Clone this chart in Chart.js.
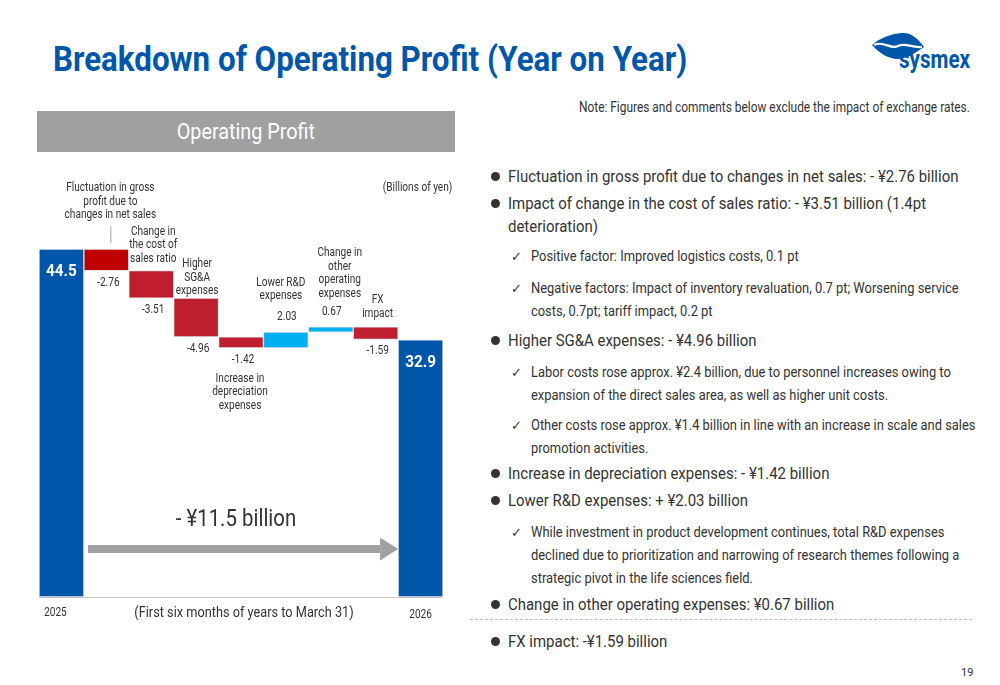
<!DOCTYPE html>
<html>
<head>
<meta charset="utf-8">
<script src="https://cdn.jsdelivr.net/npm/chart.js@4.4.1/dist/chart.umd.min.js"></script>
<style>
  html, body { margin: 0; padding: 0; background: #fff; }
  body { width: 1000px; height: 685px; position: relative; overflow: hidden;
         font-family: "Roboto", "Liberation Sans", sans-serif; color: #333; }
  .n { display: inline-block; transform-origin: 0 0; white-space: nowrap; }
  .title { position: absolute; left: 53px; top: 39px; font-size: 35px; font-weight: bold; color: #0057AA; }
  .title .n { transform: scaleX(0.895); }
  .logo { position: absolute; left: 866px; top: 28px; }
  .panelHead { position: absolute; left: 37px; top: 111px; width: 418px; height: 41px;
               background: #A0A0A0; color: #fff; font-size: 22px; text-align: center; line-height: 41px; }
  .panelHead .n { transform: scaleX(0.9); transform-origin: 50% 0; }
  .note { position: absolute; right: 30px; top: 99px; font-size: 14px; }
  .note .n { transform: scaleX(0.85); transform-origin: 100% 0; }
  .b { position: absolute; left: 508px; font-size: 17px; line-height: 23px; }
  .b .n { transform: scaleX(0.88); }
  .b::before { content: ""; position: absolute; left: -17px; top: 7px; width: 9px; height: 9px;
               border-radius: 50%; background: #333; }
  .s { position: absolute; left: 531px; font-size: 15px; line-height: 23px; }
  .s .n { transform: scaleX(0.86); }
  .s::before { content: "\2713"; position: absolute; left: -20px; top: 0; font-size: 13px; }
  .dash { position: absolute; left: 470px; top: 619px; width: 502px; border-top: 1px dashed #BDBDBD; }
  .page { position: absolute; left: 961px; top: 666px; font-size: 11px; }
  #wf { position: absolute; left: 0; top: 150px; }
</style>
</head>
<body>
<div class="title"><span class="n">Breakdown of Operating Profit (Year on Year)</span></div>
<svg class="logo" width="110" height="50" viewBox="0 0 110 50">
  <path d="M6 17 C14 10, 24 6, 36 5 C44 4, 52 10, 58 19 C48 26, 40 31, 32 31 C22 31, 12 24, 6 17 Z" fill="#0057AA"/>
  <path d="M8 17 C18 12, 24 22, 32 18 C40 14, 44 20, 56 19" fill="none" stroke="#fff" stroke-width="2.2"/>
  <text x="33" y="40" font-family="Roboto, sans-serif" font-weight="bold" font-size="25"
        fill="#0057AA" textLength="71" lengthAdjust="spacingAndGlyphs">sysmex</text>
</svg>
<div class="panelHead"><span class="n">Operating Profit</span></div>
<div class="note"><span class="n">Note: Figures and comments below exclude the impact of exchange rates.</span></div>

<div class="b" style="top:165px"><span class="n">Fluctuation in gross profit due to changes in net sales: - ¥2.76 billion</span></div>
<div class="b" style="top:192px"><span class="n">Impact of change in the cost of sales ratio: - ¥3.51 billion (1.4pt<br>deterioration)</span></div>
<div class="s" style="top:245px"><span class="n">Positive factor: Improved logistics costs, 0.1 pt</span></div>
<div class="s" style="top:277px"><span class="n">Negative factors: Impact of inventory revaluation, 0.7 pt; Worsening service<br>costs, 0.7pt; tariff impact, 0.2 pt</span></div>
<div class="b" style="top:329px"><span class="n">Higher SG&amp;A expenses: - ¥4.96 billion</span></div>
<div class="s" style="top:361px"><span class="n">Labor costs rose approx. ¥2.4 billion, due to personnel increases owing to<br>expansion of the direct sales area, as well as higher unit costs.</span></div>
<div class="s" style="top:414px"><span class="n">Other costs rose approx. ¥1.4 billion in line with an increase in scale and sales<br>promotion activities.</span></div>
<div class="b" style="top:462px"><span class="n">Increase in depreciation expenses: - ¥1.42 billion</span></div>
<div class="b" style="top:489px"><span class="n">Lower R&amp;D expenses: + ¥2.03 billion</span></div>
<div class="s" style="top:521px"><span class="n">While investment in product development continues, total R&amp;D expenses<br>declined due to prioritization and narrowing of research themes following a<br>strategic pivot in the life sciences field.</span></div>
<div class="b" style="top:593px"><span class="n">Change in other operating expenses: ¥0.67 billion</span></div>
<div class="dash"></div>
<div class="b" style="top:630px"><span class="n">FX impact: -¥1.59 billion</span></div>
<div class="page">19</div>

<canvas id="wf" width="470" height="490"></canvas>

<script>
// ----------------------------
// Daten (Milliarden Yen)
// ----------------------------
const years = ['2025', '2026'];
const startValue = 44.5;
const endValue = 32.9;
const changes = [-2.76, -3.51, -4.96, -1.42, 2.03, 0.67, -1.59];
const changeNames = [
  ['Fluctuation in gross', 'profit due to', 'changes in net sales'],
  ['Change in', 'the cost of', 'sales ratio'],
  ['Higher', 'SG&A', 'expenses'],
  ['Increase in', 'depreciation', 'expenses'],
  ['Lower R&D', 'expenses'],
  ['Change in', 'other', 'operating', 'expenses'],
  ['FX', 'impact']
];
const valueLabels = ['44.5', '-2.76', '-3.51', '-4.96', '-1.42', '2.03', '0.67', '-1.59', '32.9'];
const totalChangeLabel = '- ¥11.5 billion';
const unitLabel = '(Billions of yen)';
const periodLabel = '(First six months of years to March 31)';
const yTicks = [0, 55];

// ----------------------------
// Farben / Layout
// ----------------------------
const FONT = '"Roboto", sans-serif';
const BLUE = '#0057AA';
const RED_FIRST = '#C00000';
const RED = '#BE1E2D';
const CYAN = '#00B0F0';
const TXT = '#333333';
const NARROW = 0.84;   // Schrift ist im Original schmal

// Kategorie-Labels: Versatz relativ zur Balkenkante (px)
const nameLayout = [
  { pos: 'above', dx: 4, dy: -34, leader: true },
  { pos: 'above', dx: 2, dy: -12 },
  { pos: 'above', dx: 1, dy: -7 },
  { pos: 'below', dx: -1, dy: 31 },
  { pos: 'above', dx: -5, dy: -36 },
  { pos: 'above', dx: 9, dy: -33 },
  { pos: 'above', dx: 2, dy: -13 }
];

// ----------------------------
// Wasserfall-Daten aufbauen
// ----------------------------
const labels = [years[0], ...changeNames.map(n => n.join(' ')), years[1]];
const floating = [[0, startValue]];
const colors = [BLUE];
let running = startValue;
changes.forEach((c, i) => {
  const next = running + c;
  floating.push([Math.min(running, next), Math.max(running, next)]);
  colors.push(c >= 0 ? CYAN : (i === 0 ? RED_FIRST : RED));
  running = next;
});
floating.push([0, endValue]);
colors.push(BLUE);

// schmal gesetzter Text
function narrowText(ctx, text, x, y, sx) {
  ctx.save();
  ctx.translate(x, y);
  ctx.scale(sx || NARROW, 1);
  ctx.fillText(text, 0, 0);
  ctx.restore();
}

// ----------------------------
// Plugin für Beschriftungen
// ----------------------------
const annotations = {
  id: 'annotations',
  afterDatasetsDraw(chart) {
    const { ctx, chartArea: ca } = chart;
    const xs = chart.scales.x, ys = chart.scales.y;
    const meta = chart.getDatasetMeta(0);
    const bw = meta.data[0].width;

    ctx.save();
    // Grundlinie
    ctx.strokeStyle = '#C8C8C8';
    ctx.lineWidth = 1;
    ctx.beginPath();
    ctx.moveTo(ca.left, Math.round(ca.bottom) + 0.5);
    ctx.lineTo(ca.right, Math.round(ca.bottom) + 0.5);
    ctx.stroke();

    ctx.textAlign = 'center';
    ctx.textBaseline = 'middle';

    // Summenbalken-Werte
    ctx.fillStyle = '#fff';
    ctx.font = 'bold 17px ' + FONT;
    [0, floating.length - 1].forEach(i => {
      const x = xs.getPixelForValue(i);
      narrowText(ctx, valueLabels[i], x, ys.getPixelForValue(floating[i][1]) + 23, 0.9);
    });

    // Veränderungen
    ctx.fillStyle = TXT;
    ctx.font = '12px ' + FONT;
    changes.forEach((c, k) => {
      const i = k + 1;
      const x = xs.getPixelForValue(i);
      const top = ys.getPixelForValue(floating[i][1]);
      const bot = ys.getPixelForValue(floating[i][0]);
      const lay = nameLayout[k];
      if (c < 0) narrowText(ctx, valueLabels[i], x + 2, bot + 12);
      else narrowText(ctx, valueLabels[i], x + 1, top - 15);

      const lines = changeNames[k];
      const lh = 13.5;
      if (lay.pos === 'above') {
        const last = top + lay.dy;
        lines.forEach((t, j) => narrowText(ctx, t, x + lay.dx, last - (lines.length - 1 - j) * lh));
        if (lay.leader) {
          ctx.strokeStyle = '#A6A6A6';
          ctx.beginPath();
          ctx.moveTo(x + lay.dx + 0.5, last + 11);
          ctx.lineTo(x + lay.dx + 0.5, top - 6);
          ctx.stroke();
        }
      } else {
        lines.forEach((t, j) => narrowText(ctx, t, x + lay.dx, bot + lay.dy + j * lh));
      }
    });

    // Einheit
    narrowText(ctx, unitLabel, xs.getPixelForValue(8) - 3, ca.top + 21);

    // Pfeil zwischen den Summenbalken
    const ax0 = xs.getPixelForValue(0) + bw / 2 + 4;
    const ax1 = xs.getPixelForValue(floating.length - 1) - bw / 2;
    const ay = ca.bottom - 48;
    ctx.fillStyle = '#A0A0A0';
    ctx.fillRect(ax0, ay - 4, ax1 - 18 - ax0, 8);
    ctx.beginPath();
    ctx.moveTo(ax1 - 18, ay - 11.5);
    ctx.lineTo(ax1, ay);
    ctx.lineTo(ax1 - 18, ay + 11.5);
    ctx.closePath();
    ctx.fill();

    ctx.fillStyle = TXT;
    ctx.font = '24px ' + FONT;
    narrowText(ctx, totalChangeLabel, (ax0 + ax1) / 2 - 7, ay - 29, 0.85);

    // Jahre und Zeitraum
    ctx.font = '12px ' + FONT;
    narrowText(ctx, years[0], xs.getPixelForValue(0) - 6, ca.bottom + 16);
    narrowText(ctx, years[1], xs.getPixelForValue(floating.length - 1), ca.bottom + 18);
    ctx.font = '15px ' + FONT;
    narrowText(ctx, periodLabel, (ax0 + ax1) / 2 + 1, ca.bottom + 16, 0.85);
    ctx.restore();
  }
};

// ----------------------------
// Chart
// ----------------------------
new Chart(document.getElementById('wf'), {
  type: 'bar',
  data: {
    labels: labels,
    datasets: [{
      data: floating,
      backgroundColor: colors,
      borderColor: 'rgba(225,225,235,0.9)',
      borderWidth: 1,
      borderSkipped: false,
      categoryPercentage: 1,
      barPercentage: 1
    }]
  },
  options: {
    responsive: false,
    animation: false,
    layout: { padding: { left: 39, right: 27, top: 17, bottom: 43 } },
    plugins: { legend: { display: false }, tooltip: { enabled: false } },
    scales: {
      x: { display: false },
      y: { display: false, min: yTicks[0], max: yTicks[1] }
    }
  },
  plugins: [annotations]
});
</script>
</body>
</html>
